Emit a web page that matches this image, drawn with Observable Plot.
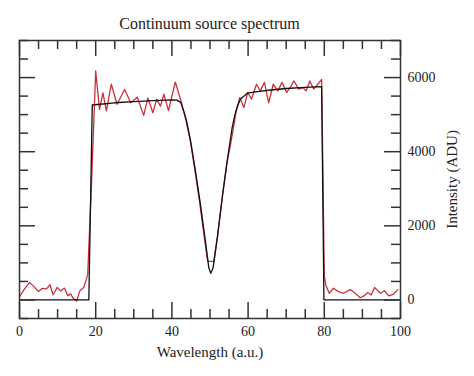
<!DOCTYPE html>
<html>
<head>
<meta charset="utf-8">
<script src="https://cdn.jsdelivr.net/npm/d3@7"></script>
<script src="https://cdn.jsdelivr.net/npm/@observablehq/plot@0.6"></script>
<style>
  html, body { margin: 0; padding: 0; background: #fff; }
  #title { height: 30px; box-sizing: border-box; padding-top: 16px; width: 381px; margin-left: 19px;
           text-align: center; font: 16px "Liberation Serif", serif; line-height: 16px; color: #222; }
  svg { display: block; }
</style>
</head>
<body>
<div id="title">Continuum source spectrum</div>
<div id="chart"></div>
<script>
// ---- data ----
const xLabel = "Wavelength (a.u.)";
const yLabel = "Intensity (ADU)";
const xMajorTicks = [0, 20, 40, 60, 80, 100];
const xMinorTicks = [5, 10, 15, 25, 30, 35, 45, 50, 55, 65, 70, 75, 85, 90, 95];
const yMajorTicks = [0, 2000, 4000, 6000];
const yMinorTicks = [-500, 500, 1000, 1500, 2500, 3000, 3500, 4500, 5000, 5500, 6500, 7000];

// observed (noisy) spectrum, red
const observedX = [0, 1.2, 2.6, 3.6, 5.0, 6.0, 7.1, 8.0, 8.8, 9.9, 10.8, 11.8, 12.7, 13.4, 14.1, 15.0, 15.8, 16.9, 17.9, 18.9,
  20.0, 21.0, 21.9, 22.8, 24.1, 25.6, 27.6, 29.2, 30.9, 32.6, 33.7, 35.0, 36.0, 37.0, 37.9, 39.1, 40.9, 42.5, 43.6, 44.8,
  46.0, 47.3, 48.5, 49.4, 51.0, 52.0, 53.2, 54.4, 55.3, 56.0, 56.8, 57.8, 58.9, 59.9, 60.9, 62.2, 63.2, 64.3, 65.4, 66.6,
  67.8, 68.9, 70.1, 71.0, 72.0, 73.3, 74.4, 75.2, 76.2, 77.2, 78.3, 79.3, 80.0, 80.4, 81.3, 82.4, 83.7, 85.0, 86.8, 88.1,
  89.4, 90.4, 91.4, 92.3, 93.2, 94.7, 95.8, 96.9, 98.2, 99.3];
const observedY = [90, 280, 470, 380, 230, 315, 300, 410, 140, 340, 240, 320, 115, 165, 45, -30, 240, 340, 690, 3150,
  6180, 5140, 5590, 5100, 5820, 5280, 5680, 5320, 5470, 4980, 5450, 5050, 5410, 5230, 5550, 5110, 5880, 5320, 4880, 4320,
  3520, 2620, 1700, 1040, 1040, 1720, 2760, 3680, 4150, 4550, 5050, 5460, 5190, 5600, 5420, 5820, 5640, 5870, 5320, 5820,
  5640, 5870, 5600, 5720, 5910, 5690, 5730, 5640, 5910, 5690, 5820, 5950, 650, 400, 180, 315, 225, 180, 280, 180,
  60, 110, 200, 135, 340, 180, 250, 110, 160, 280];

// model continuum, black
const modelX = [0, 18.2, 19.1, 25, 30, 35, 40, 41.3, 42.3, 43.1, 43.8, 44.9, 46.2, 47.5, 48.8, 49.7, 50.2, 50.8, 51.9,
  53.2, 54.5, 55.8, 56.5, 57.1, 58.0, 59.8, 62.4, 66, 70, 75, 79.3, 79.9, 100];
const modelY = [0, 0, 5260, 5320, 5350, 5380, 5400, 5390, 5330, 5100, 4850, 4290, 3470, 2570, 1580, 860, 720, 860, 1670,
  2750, 3740, 4640, 4980, 5200, 5420, 5580, 5620, 5665, 5705, 5735, 5755, 0, 0];

const observed = observedX.map((x, i) => ({x, y: observedY[i]}));
const model = modelX.map((x, i) => ({x, y: modelY[i]}));

const W = 474, H = 346;
const mt = 10, mb = 58, ml = 19, mr = 74;
const innerW = W - ml - mr, innerH = H - mt - mb;
const axisColor = "#333";
const longT = 16, shortT = 9;

const chart = Plot.plot({
  width: W, height: H,
  marginTop: mt, marginBottom: mb, marginLeft: ml, marginRight: mr,
  style: {fontFamily: "'Liberation Serif', serif", fontSize: "14px", color: "#222", background: "#fff"},
  x: {domain: [0, 100]},
  y: {domain: [-500, 7000]},
  marks: [
    Plot.line(observed, {x: "x", y: "y", stroke: "#c8323c", strokeWidth: 1.3}),
    Plot.line(model, {x: "x", y: "y", stroke: "#111", strokeWidth: 1.3}),
    Plot.frame({stroke: axisColor, strokeWidth: 1.5}),
    // inward ticks, bottom & top
    Plot.tickX(xMajorTicks, {insetTop: innerH - longT, stroke: axisColor, strokeWidth: 1.5}),
    Plot.tickX(xMinorTicks, {insetTop: innerH - shortT, stroke: axisColor, strokeWidth: 1.5}),
    Plot.tickX(xMajorTicks, {insetBottom: innerH - longT, stroke: axisColor, strokeWidth: 1.5}),
    Plot.tickX(xMinorTicks, {insetBottom: innerH - shortT, stroke: axisColor, strokeWidth: 1.5}),
    // inward ticks, left & right
    Plot.tickY(yMajorTicks, {insetRight: innerW - longT, stroke: axisColor, strokeWidth: 1.5}),
    Plot.tickY(yMinorTicks, {insetRight: innerW - shortT, stroke: axisColor, strokeWidth: 1.5}),
    Plot.tickY(yMajorTicks, {insetLeft: innerW - longT, stroke: axisColor, strokeWidth: 1.5}),
    Plot.tickY(yMinorTicks, {insetLeft: innerW - shortT, stroke: axisColor, strokeWidth: 1.5}),
    Plot.axisX({anchor: "bottom", ticks: xMajorTicks, tickFormat: "d", tickSize: 0, tickPadding: 8,
      label: null, fontSize: 14}),
    Plot.axisX({anchor: "bottom", ticks: [], label: xLabel, labelAnchor: "center", labelArrow: "none",
      labelOffset: 38, fontSize: 15}),
    Plot.axisY({anchor: "right", ticks: yMajorTicks, tickFormat: "d", tickSize: 0, tickPadding: 7,
      label: null, fontSize: 14}),
    Plot.axisY({anchor: "right", ticks: [], label: yLabel, labelAnchor: "center", labelArrow: "none",
      labelOffset: 56, fontSize: 15})
  ]
});
document.getElementById("chart").appendChild(chart);
</script>
</body>
</html>
